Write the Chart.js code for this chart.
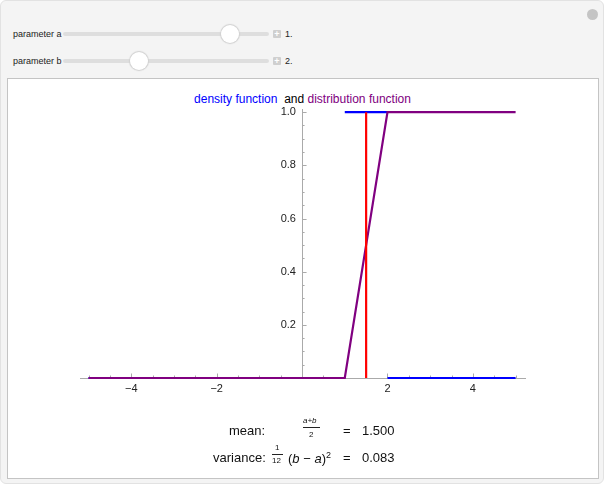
<!DOCTYPE html>
<html>
<head>
<meta charset="utf-8">
<script src="https://cdn.jsdelivr.net/npm/chart.js@4"></script>
<style>
  body { margin: 0; background: #fff; font-family: "Liberation Sans", Arial, sans-serif; }
  #panel { position: absolute; left: 0; top: 0; width: 602px; height: 482px; background: #f4f4f4;
           border: 1px solid #e2e2e2; border-radius: 6px; }
  .lbl { position: absolute; font-size: 9px; color: #222; }
  .track { position: absolute; height: 4px; background: #dedede; border-radius: 2px; left: 62px; width: 206px; }
  .thumb { position: absolute; width: 18px; height: 18px; border-radius: 50%; background: #fff;
           box-shadow: 0 0 1px 1px #d0d0d0; }
  .plus { position: absolute; width: 8px; height: 8px; background: #cfcfcf; border-radius: 1px; color: #fff;
          font-size: 9px; line-height: 8px; text-align: center; font-weight: bold; }
  #gear { position: absolute; left: 586px; top: 8px; width: 11px; height: 11px; border-radius: 50%; background: #c4c4c4; }
  #box { position: absolute; left: 6px; top: 77px; width: 590px; height: 399px; background: #fff; border: 1px solid #c4c4c4; }
  #chartWrap { position: absolute; left: 8px; top: 79px; width: 589px; height: 398px; }
  #title { position: absolute; left: 0; width: 605px; top: 92px; text-align: center; font-size: 12px; }
  .stat { position: absolute; font-size: 13px; color: #111; }
</style>
</head>
<body>
<div id="panel">
  <div id="gear"></div>
  <div class="track" style="top:31px;"></div>
  <div class="lbl" style="left:12px; top:28px;">parameter a</div>
  <div class="thumb" style="left:220px; top:24px;"></div>
  <div class="plus" style="left:272px; top:29px;">+</div>
  <div class="lbl" style="left:284px; top:28px;">1.</div>

  <div class="track" style="top:58px;"></div>
  <div class="lbl" style="left:12px; top:55px;">parameter b</div>
  <div class="thumb" style="left:129px; top:51px;"></div>
  <div class="plus" style="left:272px; top:56px;">+</div>
  <div class="lbl" style="left:284px; top:55px;">2.</div>

  <div id="box"></div>
</div>
<div id="title"><span style="color:#0000ff">density function</span>&nbsp; <span style="color:#000">and</span> <span style="color:#800080">distribution function</span></div>
<div id="chartWrap"><canvas id="c"></canvas></div>

<div class="stat" style="left:229px; top:423px;">mean:</div>
<div class="stat" style="left:303px; top:416px; font-size:8px; font-style:italic;">a+b</div>
<div style="position:absolute; left:303px; top:427px; width:17px; height:1px; background:#222;"></div>
<div class="stat" style="left:309px; top:430px; font-size:8px;">2</div>
<div class="stat" style="left:343px; top:423px;">=</div>
<div class="stat" style="left:362px; top:423px;">1.500</div>

<div class="stat" style="left:213px; top:450px;">variance:</div>
<div class="stat" style="left:275px; top:443px; font-size:8px;">1</div>
<div style="position:absolute; left:272px; top:454px; width:11px; height:1px; background:#222;"></div>
<div class="stat" style="left:272px; top:456px; font-size:8px;">12</div>
<div class="stat" style="left:288px; top:450px;">(<i>b</i> − <i>a</i>)<sup style="font-size:9px;">2</sup></div>
<div class="stat" style="left:343px; top:450px;">=</div>
<div class="stat" style="left:362px; top:450px;">0.083</div>

<script>
// parameters a = 1, b = 2
const densityX = [-5, 1, 1, 1, 2, 2, 2, 5];
const densityY = [0, 0, null, 1, 1, null, 0, 0];
const cdfX = [-5, 1, 2, 5];
const cdfY = [0, 0, 1, 1];
const meanX = [1.5, 1.5];
const meanY = [0, 1];
const xTickLabels = [-4, -2, 2, 4];
const yTickLabels = [0.2, 0.4, 0.6, 0.8, 1.0];

const toPts = (xs, ys) => xs.map((x, i) => ({ x: x, y: ys[i] }));

// small Mathematica-style tick marks pointing into the plot
const tickMarks = {
  id: 'tickMarks',
  beforeDatasetsDraw(chart) {
    const ctx = chart.ctx, xs = chart.scales.x, ys = chart.scales.y;
    const x0 = xs.getPixelForValue(0), y0 = ys.getPixelForValue(0);
    ctx.save();
    ctx.strokeStyle = '#aaaaaa';
    ctx.lineWidth = 1;
    ctx.beginPath();
    for (let i = -10; i <= 10; i++) {
      const v = i / 2;
      const px = Math.round(xs.getPixelForValue(v)) + 0.5;
      const len = (v % 2 === 0) ? 4.5 : 2.5;
      ctx.moveTo(px, y0);
      ctx.lineTo(px, y0 - len);
    }
    for (let i = 1; i <= 20; i++) {
      const v = i * 0.05;
      const py = Math.round(ys.getPixelForValue(v)) + 0.5;
      const len = (i % 4 === 0) ? 4.5 : 2.5;
      ctx.moveTo(x0, py);
      ctx.lineTo(x0 + len, py);
    }
    ctx.stroke();
    ctx.restore();
  }
};

new Chart(document.getElementById('c'), {
  type: 'line',
  data: {
    datasets: [
      { label: 'density', data: toPts(densityX, densityY), borderColor: '#0000ff', borderWidth: 2.2, spanGaps: false, order: 2 },
      { label: 'distribution', data: toPts(cdfX, cdfY), borderColor: '#800080', borderWidth: 2.2, order: 1 },
      { label: 'mean', data: toPts(meanX, meanY), borderColor: '#ff0000', borderWidth: 2.2, order: 0 }
    ]
  },
  options: {
    responsive: true,
    maintainAspectRatio: false,
    animation: false,
    layout: { padding: { left: 72, right: 72, top: 30, bottom: 99 } },
    elements: { point: { radius: 0 }, line: { tension: 0 } },
    datasets: { line: { clip: false } },
    plugins: { legend: { display: false }, tooltip: { enabled: false } },
    scales: {
      x: {
        type: 'linear',
        min: -5.2, max: 5.22,
        position: { y: 0 },
        grid: { display: false, drawTicks: false },
        border: { display: true, color: '#aaaaaa', width: 1 },
        afterBuildTicks: s => { s.ticks = xTickLabels.map(v => ({ value: v })); },
        ticks: {
          padding: 4,
          color: '#222',
          font: { family: 'Liberation Sans', size: 11 },
          maxRotation: 0,
          callback: v => v < 0 ? '\u2212' + Math.abs(v) : String(v)
        }
      },
      y: {
        type: 'linear',
        min: 0, max: 1.012,
        position: { x: 0 },
        grid: { display: false, drawTicks: false },
        border: { display: true, color: '#aaaaaa', width: 1 },
        afterBuildTicks: s => { s.ticks = yTickLabels.map(v => ({ value: v })); },
        ticks: {
          padding: 4,
          color: '#222',
          font: { family: 'Liberation Sans', size: 11 },
          // trailing spaces keep the right-aligned label off the axis line
          callback: v => Number(v).toFixed(1) + '  '
        }
      }
    }
  },
  plugins: [tickMarks]
});
</script>
</body>
</html>
